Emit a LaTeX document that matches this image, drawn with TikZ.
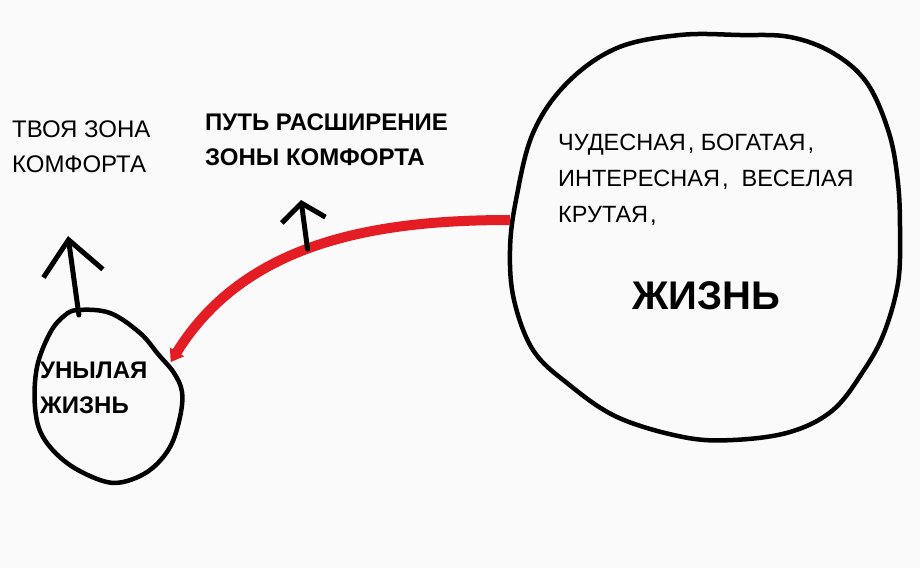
\documentclass[tikz,border=0pt]{standalone}
\usepackage{fontspec}
\setmainfont{Liberation Sans}
\usetikzlibrary{positioning,shapes.geometric,arrows.meta}
\definecolor{pathred}{RGB}{228,28,36}
\definecolor{paper}{RGB}{250,250,250}
\begin{document}
\begin{tikzpicture}[x=1pt, y=-1pt,
    blob/.style={draw, line width=4.5pt, line join=round},
    caption/.style={inner sep=0pt, anchor=north west, align=left, font=\fontsize{24}{35}\selectfont},
    boldcaption/.style={caption, font=\bfseries\fontsize{24}{35}\selectfont},
    handarrow/.style={line width=5pt, line cap=round}]
            \useasboundingbox (0,0) rectangle (920,568);
            \fill[paper] (0,0) rectangle (920,568);
            % Unylaya zhizn
            \node[ellipse, minimum width=146pt, minimum height=174pt] (dull) at (108,395) {};
            \draw[blob] plot[smooth cycle, tension=0.6] coordinates {(78,310) (110,313) (140,333) (158,354) (174,373) (182,392) (180,417) (170,447) (150,470) (123,482) (100,480) (67,463) (43,437) (35,407) (37,367) (50,333) (64,316)};
            \node[boldcaption] (dulltext) at (40,362) {УНЫЛАЯ\\ЖИЗНЬ};
            % Zhizn
            \node[rectangle, minimum width=392pt, minimum height=405pt] (life) at (706,237) {};
            \draw[blob] plot[smooth cycle, tension=0.6] coordinates {(680,35) (740,35) (790,37) (833,53) (867,83) (889,133) (898,183) (900,233) (898,283) (884,333) (864,370) (833,410) (790,432) (733,440) (683,437) (617,417) (567,383) (533,350) (514,300) (510,250) (516,200) (533,133) (567,83) (617,48)};
            \node[caption, font=\fontsize{23.5}{36}\selectfont] (lifetext) at (558,134) {ЧУДЕСНАЯ\kern2pt, БОГАТАЯ\kern2pt,\\ИНТЕРЕСНАЯ\kern2pt,\ \ ВЕСЕЛАЯ\\КРУТАЯ\kern2pt,};
            \node[inner sep=0pt, font=\bfseries\fontsize{40}{40}\selectfont] (lifeword) at (706,296) {ЖИЗНЬ};
            % Podpisi
            \node[caption] (zone) at (12,121) {ТВОЯ ЗОНА\\КОМФОРТА};
            \node[boldcaption] (widen) at (205,114) {ПУТЬ РАСШИРЕНИЕ\\ЗОНЫ КОМФОРТА};
            % Put
            \draw[pathred, line width=10pt, shorten >=-6pt, -{Triangle[length=12pt, width=16pt]}] ([yshift=17pt]life.west) .. controls (375,220) and (245,242) .. (dull.30) coordinate[pos=0.53] (mid);
            % Strelki
            \coordinate (lefttip) at (68,236);
            \coordinate (midtip) at (301,200);
            \draw[handarrow, -{Straight Barb[length=34pt, width=60pt]}] (dull.110) -- (lefttip);
            \draw[handarrow, -{Straight Barb[length=17pt, width=44pt]}] (mid) -- (midtip);
        \end{tikzpicture}
\end{document}
